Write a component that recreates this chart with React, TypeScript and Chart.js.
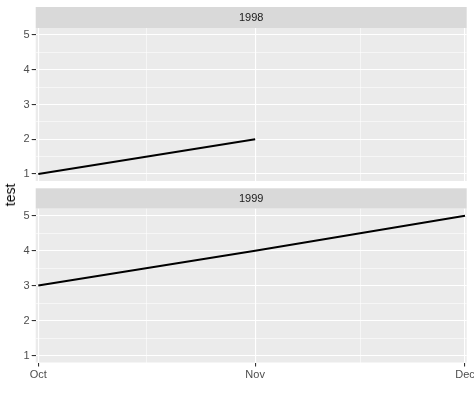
import React, { useEffect, useRef } from "react";
import { Chart, registerables } from "chart.js";

Chart.register(...registerables);

// Days since Oct 1 (Oct 1, Nov 1, Dec 1)
const dayValues = [0, 31, 61];
const monthLabels = ["Oct", "Nov", "Dec"];
const minorDays = [15.5, 46];
const panelLabels = ["1998", "1999"];
const values1998 = [1, 2];
const values1999 = [3, 4, 5];
const yMajor = [1, 2, 3, 4, 5];
const yMinor = [1.5, 2.5, 3.5, 4.5];

const FONT = "'Liberation Sans', Arial, Helvetica, sans-serif";
const W = 474;

const stripPlugin = {
  id: "strip",
  beforeDraw(chart: any, _args: any, opts: any) {
    const { ctx, chartArea } = chart;
    const { left, right, top, bottom } = chartArea;
    ctx.save();
    ctx.fillStyle = "#D9D9D9";
    ctx.fillRect(left, top - opts.height, right - left, opts.height);
    ctx.fillStyle = "#1A1A1A";
    ctx.font = `11px ${FONT}`;
    ctx.textAlign = "center";
    ctx.textBaseline = "middle";
    ctx.fillText(opts.label, (left + right) / 2, top - opts.height / 2);
    ctx.fillStyle = "#EBEBEB";
    ctx.fillRect(left, top, right - left, bottom - top);
    ctx.restore();
  },
};

function makeConfig(label: string, ys: number[], showX: boolean, padTop: number, stripH: number, xHeight: number) {
  const points = ys.map((y, i) => ({ x: dayValues[i], y }));
  const isMajorY = (v: number) => Number.isInteger(v);
  const isMajorX = (v: number) => dayValues.includes(v);
  return {
    type: "scatter" as const,
    data: {
      datasets: [
        {
          data: points,
          showLine: true,
          borderColor: "#000000",
          borderWidth: 2,
          pointRadius: 0,
          fill: false,
        },
      ],
    },
    plugins: [stripPlugin],
    options: {
      animation: false,
      responsive: false,
      maintainAspectRatio: false,
      layout: { padding: { top: padTop, right: 7.3, left: 0, bottom: 0 } },
      plugins: {
        legend: { display: false },
        tooltip: { enabled: false },
        strip: { label, height: stripH },
      },
      scales: {
        x: {
          type: "linear",
          min: -0.37,
          max: 61.24,
          afterBuildTicks: (s: any) => {
            s.ticks = [...dayValues, ...minorDays].sort((a, b) => a - b).map((v) => ({ value: v }));
          },
          afterFit: (s: any) => {
            s.height = xHeight;
            s.paddingLeft = 0;
            s.paddingRight = 0;
          },
          border: { display: false },
          grid: {
            color: "#FFFFFF",
            lineWidth: (c: any) => (isMajorX(c.tick?.value) ? 1.1 : 0.55),
            drawTicks: showX,
            tickLength: 4,
            tickColor: (c: any) => (isMajorX(c.tick?.value) ? "#333333" : "rgba(0,0,0,0)"),
            tickWidth: 1.1,
          },
          ticks: {
            display: showX,
            autoSkip: false,
            maxRotation: 0,
            padding: 2,
            color: "#4D4D4D",
            font: { family: FONT, size: 11 },
            callback: (v: any) => {
              const i = dayValues.indexOf(v);
              return i >= 0 ? monthLabels[i] : "";
            },
          },
        },
        y: {
          type: "linear",
          min: 0.8,
          max: 5.2,
          afterBuildTicks: (s: any) => {
            s.ticks = [...yMajor, ...yMinor].sort((a, b) => a - b).map((v) => ({ value: v }));
          },
          afterFit: (s: any) => {
            s.width = 35.7;
            s.paddingTop = 0;
            s.paddingBottom = 0;
          },
          border: { display: false },
          grid: {
            color: "#FFFFFF",
            lineWidth: (c: any) => (isMajorY(c.tick?.value) ? 1.1 : 0.55),
            drawTicks: true,
            tickLength: 4,
            tickColor: (c: any) => (isMajorY(c.tick?.value) ? "#333333" : "rgba(0,0,0,0)"),
            tickWidth: 1.1,
          },
          ticks: {
            autoSkip: false,
            padding: 2,
            color: "#4D4D4D",
            font: { family: FONT, size: 11 },
            callback: (v: any) => (isMajorY(v) ? String(v) : ""),
          },
        },
      },
    },
  };
}

export default function App() {
  const topRef = useRef<HTMLCanvasElement>(null);
  const botRef = useRef<HTMLCanvasElement>(null);

  useEffect(() => {
    const c1 = new Chart(topRef.current!, makeConfig(panelLabels[0], values1998, false, 28, 21, 4) as any);
    const c2 = new Chart(botRef.current!, makeConfig(panelLabels[1], values1999, true, 23.7, 20.4, 39.5) as any);
    return () => {
      c1.destroy();
      c2.destroy();
    };
  }, []);

  return (
    <div style={{ position: "fixed", left: 0, top: 0, width: W, height: 402, background: "#FFFFFF" }}>
      <canvas ref={topRef} width={W} height={185} style={{ position: "absolute", left: 0, top: 0, display: "block" }} />
      <canvas ref={botRef} width={W} height={217} style={{ position: "absolute", left: 0, top: 185, display: "block" }} />
      <div
        style={{
          position: "absolute",
          left: 10,
          top: 195,
          transform: "translate(-50%, -50%) rotate(-90deg)",
          fontFamily: FONT,
          fontSize: 14,
          color: "#000000",
          whiteSpace: "nowrap",
        }}
      >
        test
      </div>
    </div>
  );
}
